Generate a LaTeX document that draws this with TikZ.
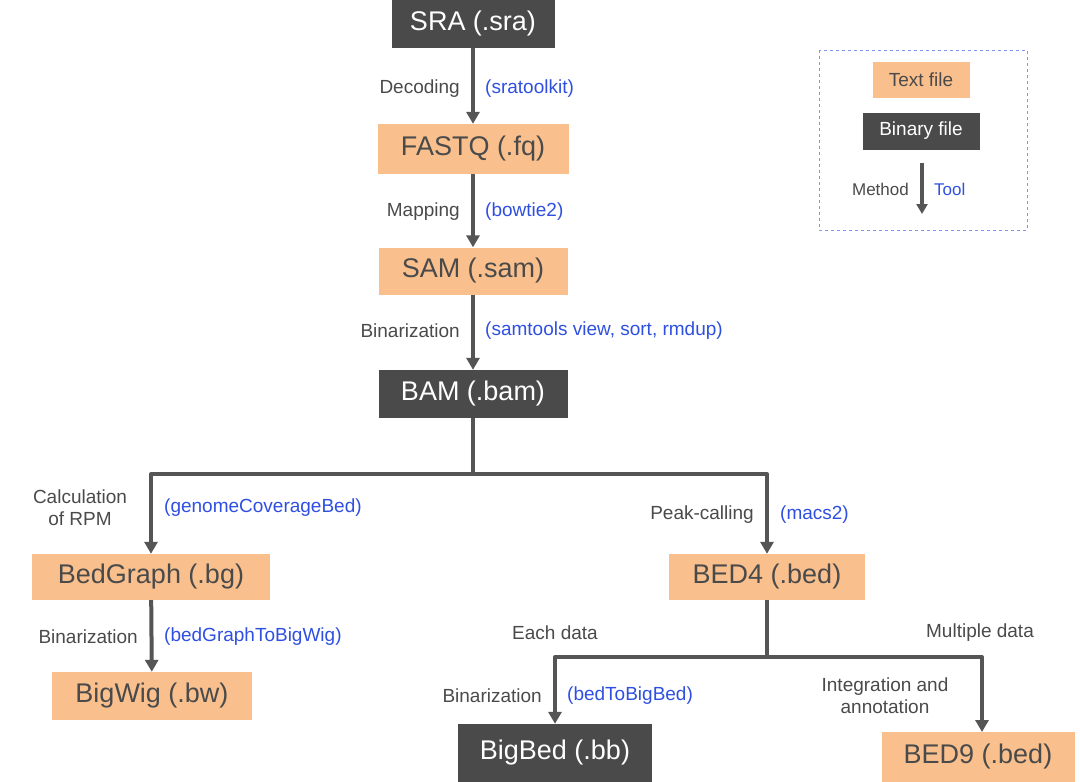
\documentclass[tikz,border=0pt]{standalone}
\usepackage{fontspec}
\setmainfont{Liberation Sans}
\usetikzlibrary{arrows.meta}
\definecolor{org}{HTML}{F9C08E}
\definecolor{drk}{HTML}{4A4A4A}
\definecolor{lng}{HTML}{555555}
\definecolor{blu}{HTML}{2F4FE0}
\begin{document}
\begin{tikzpicture}[x=1pt,y=-1pt,
 txt/.style={fill=org,text=drk,font=\fontsize{27}{30}\selectfont,inner sep=0pt,anchor=center},
 bin/.style={fill=drk,text=white,font=\fontsize{27}{30}\selectfont,inner sep=0pt,anchor=center},
 lab/.style={text=drk,font=\fontsize{19}{22}\selectfont,inner sep=1pt},
 tool/.style={text=blu,font=\fontsize{19}{22}\selectfont,inner sep=1pt},
 arr/.style={draw=lng,line width=4pt,-{Triangle[width=13pt,length=12pt]}},
 wire/.style={draw=lng,line width=4pt}]
\useasboundingbox (0,0) rectangle (1080,782);
\node[bin,minimum width=163,minimum height=48] (sra) at (473,24) {SRA (.sra)};
\node[txt,minimum width=191,minimum height=50] (fq) at (473,149) {FASTQ (.fq)};
\node[txt,minimum width=189,minimum height=47] (sam) at (473,271) {SAM (.sam)};
\node[bin,minimum width=189,minimum height=48] (bam) at (473,394) {BAM (.bam)};
\node[txt,minimum width=238,minimum height=46] (bg) at (151,577) {BedGraph (.bg)};
\node[txt,minimum width=200,minimum height=48] (bw) at (152,696) {BigWig (.bw)};
\node[txt,minimum width=196,minimum height=46] (bed4) at (767,577) {BED4 (.bed)};
\node[bin,minimum width=194,minimum height=58] (bb) at (555,753) {BigBed (.bb)};
\node[txt,minimum width=193,minimum height=50] (bed9) at (978,757) {BED9 (.bed)};

\draw[arr] (sra) -- (fq);
\draw[arr] (fq) -- (sam);
\draw[arr] (sam) -- (bam);
\node[lab,anchor=east] (l1) at (461,89) {Decoding};
\node[tool,anchor=west] (t1) at (484,89) {(sratoolkit)};
\node[lab,anchor=east] (l2) at (461,212) {Mapping};
\node[tool,anchor=west] (t2) at (484,212) {(bowtie2)};
\node[lab,anchor=east] (l3) at (461,331) {Binarization};
\node[tool,anchor=west] (t3) at (484,331) {(samtools view, sort, rmdup)};

\coordinate (j1) at (473,474);
\coordinate (jl) at (151,474);
\coordinate (jr) at (767,474);
\draw[wire] (bam.south) -- (j1);
\draw[wire,line cap=round] (jl) -- (jr);
\draw[arr] (jl) -- (bg.north);
\draw[arr] (jr) -- (bed4.north);
\node[lab,align=center] (l4) at (80,508) {Calculation\\of RPM};
\node[tool,anchor=west] (t4) at (163,508) {(genomeCoverageBed)};
\node[lab,anchor=east] (l5) at (755,515) {Peak-calling};
\node[tool,anchor=west] (t5) at (779,515) {(macs2)};

\draw[arr] (bg) -- (bw);
\node[lab,anchor=east] (l6) at (139,637) {Binarization};
\node[tool,anchor=west] (t6) at (163,637) {(bedGraphToBigWig)};

\coordinate (j2) at (767,657);
\coordinate (jbl) at (555,657);
\coordinate (jbr) at (982,657);
\coordinate (jbe) at (982,732);
\draw[wire] (bed4.south) -- (j2);
\draw[wire,line cap=round] (jbl) -- (jbr);
\draw[arr] (jbl) -- (bb.north);
\draw[arr] (jbr) -- (jbe);
\node[lab] (l7) at (555,633) {Each data};
\node[lab] (l8) at (980,633) {Multiple data};
\node[lab,anchor=east] (l9) at (543,696) {Binarization};
\node[tool,anchor=west] (t9) at (566,696) {(bedToBigBed)};
\node[lab,align=center] (l10) at (885,696) {Integration and\\annotation};

\draw[blu!60!white,dashed,line width=1pt] (819,50) rectangle (1027,230);
\node[txt,font=\fontsize{19}{22}\selectfont,minimum width=97,minimum height=36] (lt) at (921,80) {Text file};
\node[bin,font=\fontsize{19}{22}\selectfont,minimum width=117,minimum height=37] (lb) at (921,131) {Binary file};
\coordinate (la) at (922,163);
\coordinate (lz) at (922,214);
\draw[draw=lng,line width=3.5pt,-{Triangle[width=11pt,length=10pt]}] (la) -- (lz);
\node[lab,anchor=east,font=\fontsize{17}{20}\selectfont] (lm) at (910,189) {Method};
\node[tool,anchor=west,font=\fontsize{17}{20}\selectfont] (ltl) at (933,189) {Tool};
\end{tikzpicture}
\end{document}
